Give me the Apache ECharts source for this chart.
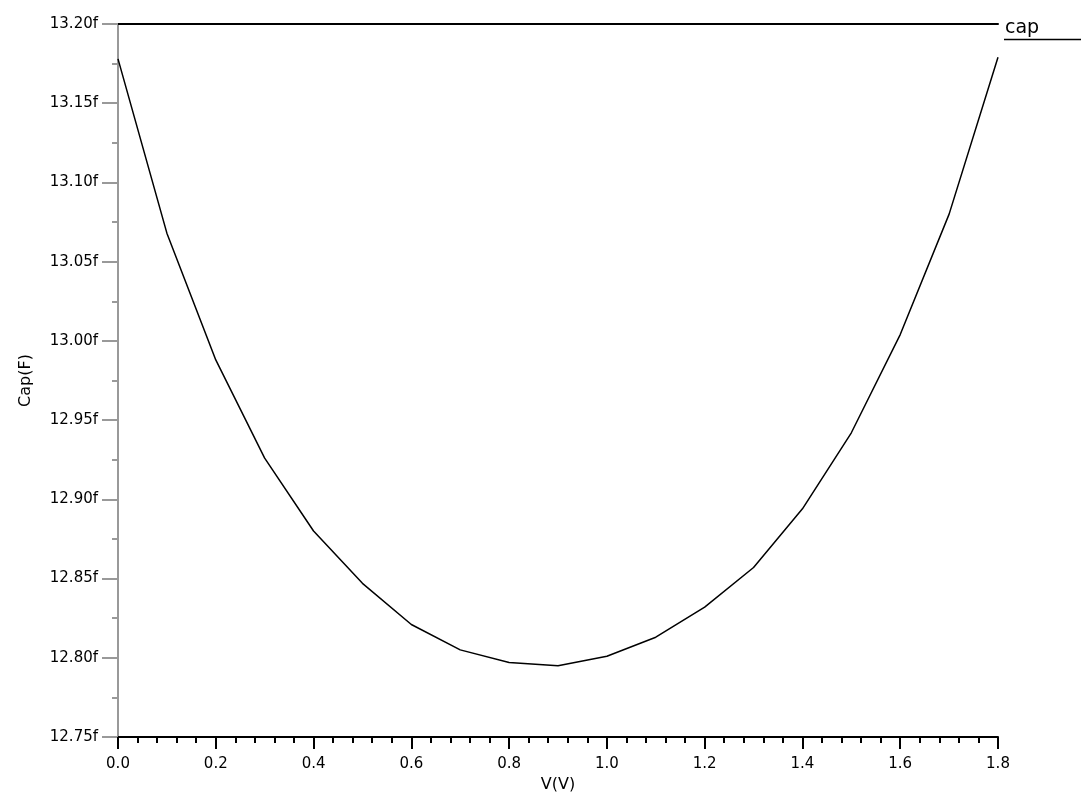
<!DOCTYPE html>
<html>
<head>
<meta charset="utf-8">
<script src="https://cdn.jsdelivr.net/npm/echarts@6/dist/echarts.min.js"></script>
<style>
html,body{margin:0;padding:0;background:#fff;}
#chart{width:1085px;height:803px;}
</style>
</head>
<body>
<div id="chart"></div>
<script>
const seriesName = 'cap';
const voltages = [0.0, 0.1, 0.2, 0.3, 0.4, 0.5, 0.6, 0.7, 0.8, 0.9, 1.0, 1.1, 1.2, 1.3, 1.4, 1.5, 1.6, 1.7, 1.8];
const capFemto = [13.178, 13.068, 12.988, 12.926, 12.880, 12.847, 12.821, 12.805, 12.797, 12.795, 12.801, 12.813, 12.832, 12.857, 12.894, 12.942, 13.004, 13.080, 13.179];
const xAxisName = 'V(V)';
const yAxisName = 'Cap(F)';

const FONT = 'DejaVu Sans';
const chart = echarts.init(document.getElementById('chart'));
chart.setOption({
  animation: false,
  backgroundColor: '#ffffff',
  grid: { left: 118, top: 24, right: 87, bottom: 66 },
  legend: {
    data: [seriesName],
    left: 1000,
    top: 19,
    padding: 0,
    icon: 'none',
    itemWidth: 0,
    itemGap: 0,
    textStyle: { fontFamily: FONT, fontSize: 19, color: '#000' },
    selectedMode: false
  },
  graphic: [{
    type: 'line',
    shape: { x1: 1004, y1: 39.5, x2: 1081, y2: 39.5 },
    style: { stroke: '#000', lineWidth: 1.5 },
    silent: true
  }],
  xAxis: [{
    type: 'value',
    min: 0,
    max: 1.8,
    interval: 0.2,
    name: xAxisName,
    nameLocation: 'middle',
    nameGap: 36,
    nameTextStyle: { fontFamily: FONT, fontSize: 16, color: '#000' },
    axisLine: { show: true, onZero: false, lineStyle: { color: '#000', width: 2 } },
    axisTick: { show: true, length: 12, lineStyle: { color: '#000', width: 2 } },
    minorTick: { show: true, splitNumber: 5, length: 6, lineStyle: { color: '#000', width: 2 } },
    axisLabel: { margin: 20, fontFamily: FONT, fontSize: 15, color: '#000', formatter: v => v.toFixed(1) },
    splitLine: { show: false }
  }, {
    type: 'value',
    position: 'top',
    min: 0,
    max: 1.8,
    axisLine: { show: true, lineStyle: { color: '#000', width: 2 } },
    axisTick: { show: false },
    axisLabel: { show: false },
    splitLine: { show: false }
  }],
  yAxis: {
    type: 'value',
    min: 12.75,
    max: 13.20,
    interval: 0.05,
    name: yAxisName,
    nameLocation: 'middle',
    nameGap: 84,
    nameTextStyle: { fontFamily: FONT, fontSize: 16, color: '#000' },
    axisLine: { show: true, onZero: false, lineStyle: { color: '#999', width: 2 } },
    axisTick: { show: true, length: 16, lineStyle: { color: '#999', width: 2 } },
    minorTick: { show: true, splitNumber: 2, length: 6, lineStyle: { color: '#999', width: 2 } },
    axisLabel: { margin: 20, fontFamily: FONT, fontSize: 15, color: '#000', formatter: v => v.toFixed(2) + 'f' },
    splitLine: { show: false }
  },
  series: [{
    name: seriesName,
    type: 'line',
    xAxisIndex: 0,
    data: voltages.map((v, i) => [v, capFemto[i]]),
    showSymbol: false,
    smooth: false,
    lineStyle: { color: '#000', width: 1.5 },
    itemStyle: { color: '#000' }
  }]
});
</script>
</body>
</html>
